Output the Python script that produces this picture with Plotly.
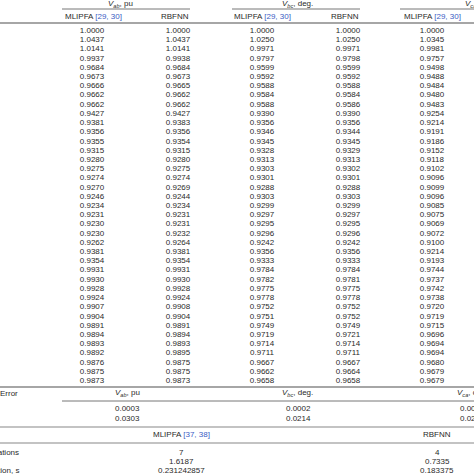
import plotly.graph_objects as go

vab_mlipfa = ["1.0000","1.0437","1.0141","0.9937","0.9684","0.9673","0.9666","0.9662","0.9662","0.9427",
              "0.9381","0.9356","0.9355","0.9315","0.9280","0.9275","0.9274","0.9270","0.9246","0.9234",
              "0.9231","0.9230","0.9230","0.9262","0.9381","0.9354","0.9931","0.9930","0.9928","0.9924",
              "0.9907","0.9904","0.9891","0.9894","0.9893","0.9892","0.9876","0.9875","0.9873"]
vab_rbfnn = ["1.0000","1.0437","1.0141","0.9938","0.9684","0.9673","0.9665","0.9662","0.9662","0.9427",
             "0.9383","0.9356","0.9354","0.9315","0.9280","0.9275","0.9274","0.9269","0.9244","0.9234",
             "0.9231","0.9231","0.9232","0.9264","0.9381","0.9354","0.9931","0.9930","0.9928","0.9924",
             "0.9908","0.9904","0.9891","0.9894","0.9893","0.9895","0.9875","0.9875","0.9873"]
vbc_mlipfa = ["1.0000","1.0250","0.9971","0.9797","0.9599","0.9592","0.9588","0.9584","0.9588","0.9390",
              "0.9356","0.9346","0.9345","0.9328","0.9313","0.9303","0.9301","0.9288","0.9303","0.9299",
              "0.9297","0.9295","0.9296","0.9242","0.9356","0.9333","0.9784","0.9782","0.9775","0.9778",
              "0.9752","0.9751","0.9749","0.9719","0.9714","0.9711","0.9667","0.9662","0.9658"]
vbc_rbfnn = ["1.0000","1.0250","0.9971","0.9798","0.9599","0.9592","0.9588","0.9584","0.9586","0.9390",
             "0.9356","0.9344","0.9345","0.9329","0.9313","0.9302","0.9301","0.9288","0.9303","0.9299",
             "0.9297","0.9295","0.9296","0.9242","0.9356","0.9333","0.9784","0.9781","0.9775","0.9778",
             "0.9752","0.9752","0.9749","0.9721","0.9714","0.9711","0.9667","0.9664","0.9658"]
vca_mlipfa = ["1.0000","1.0345","0.9981","0.9757","0.9498","0.9488","0.9484","0.9480","0.9483","0.9254",
              "0.9214","0.9191","0.9186","0.9152","0.9118","0.9102","0.9096","0.9099","0.9096","0.9085",
              "0.9075","0.9069","0.9072","0.9100","0.9214","0.9193","0.9744","0.9737","0.9742","0.9738",
              "0.9720","0.9719","0.9715","0.9696","0.9694","0.9694","0.9680","0.9679","0.9679"]

err_vab = ["0.0003", "0.0303"]
err_vbc = ["0.0002", "0.0214"]
err_vca = ["0.0004", "0.0219"]

perf_labels = ["No. of iterations", "", "Time per iteration, s"]
perf_mlipfa = ["7", "1.6187", "0.231242857"]
perf_rbfnn = ["4", "0.7335", "0.183375"]

W = H = 474
FONT = "Liberation Sans, Arial, sans-serif"
TXT = "#2a2a2a"
BLUE = "#3b5bc4"
FS = 8

fig = go.Figure()
row_top, row_step = 31.0, 9.21
cols = [(92, vab_mlipfa), (178, vab_rbfnn), (262, vbc_mlipfa), (348, vbc_rbfnn), (432, vca_mlipfa)]
for cx, vals in cols:
    fig.add_trace(go.Scatter(x=[cx] * len(vals), y=list(range(len(vals))), mode="text", text=vals,
                             textfont=dict(family=FONT, size=FS, color=TXT), textposition="middle center",
                             hoverinfo="skip", showlegend=False))

y0 = -row_top / row_step
y1 = (H - row_top) / row_step

def ann(x, y, text, xanchor="center", size=FS):
    fig.add_annotation(x=x / W, y=1 - y / H, xref="paper", yref="paper", text=text, showarrow=False,
                       xanchor=xanchor, yanchor="middle", font=dict(family=FONT, size=size, color=TXT))

def line(xa, xb, y, w=1, c="#777"):
    fig.add_shape(type="line", xref="paper", yref="paper", x0=xa / W, x1=xb / W, y0=1 - y / H, y1=1 - y / H,
                  line=dict(color=c, width=w))

ref1 = "MLIPFA <span style='color:%s'>[29, 30]</span>" % BLUE
ann(120, 4, "<i>V</i><sub><i>ab</i></sub>, pu")
ann(297, 4, "<i>V</i><sub><i>bc</i></sub>, deg.")
ann(463, 4, "<i>V</i><sub><i>ca</i></sub>, deg.", xanchor="left")
line(62, 190, 9)
line(232, 360, 9)
line(400, 474, 9)
ann(63, 16, ref1, "left")
ann(191, 16, "RBFNN", "right")
ann(232, 16, ref1, "left")
ann(361, 16, "RBFNN", "right")
ann(402, 16, ref1, "left")
line(0, 474, 23, 1.6, "#888")

line(0, 474, 387, 1.6, "#888")
ann(20, 393, "Error", "right")
ann(113, 393, "<i>V</i><sub><i>ab</i></sub>, pu", "left")
ann(280, 393, "<i>V</i><sub><i>bc</i></sub>, deg.", "left")
ann(455, 393, "<i>V</i><sub><i>ca</i></sub>, deg.", "left")
line(62, 474, 401)
for i in range(2):
    yy = 408 + 10 * i
    ann(113, yy, err_vab[i], "left")
    ann(284, yy, err_vbc[i], "left")
    ann(458, yy, err_vca[i], "left")
line(0, 474, 427, 1.2, "#888")
ann(181, 434, "MLIPFA <span style='color:%s'>[37, 38]</span>" % BLUE)
ann(437, 434, "RBFNN")
line(0, 474, 443, 1.2, "#888")
for i in range(3):
    yy = 452 + 9.2 * i
    if perf_labels[i]:
        ann(21, yy, perf_labels[i], "right")
    ann(181, yy, perf_mlipfa[i])
    ann(437, yy, perf_rbfnn[i])

fig.update_layout(width=W, height=H, margin=dict(l=0, r=0, t=0, b=0), paper_bgcolor="white",
                  plot_bgcolor="white",
                  xaxis=dict(range=[0, W], visible=False, fixedrange=True),
                  yaxis=dict(range=[y1, y0], visible=False, fixedrange=True))
fig.write_html("out.html", config={"displayModeBar": False},
               post_script="document.body.style.margin='0';document.body.style.overflow='hidden';")
